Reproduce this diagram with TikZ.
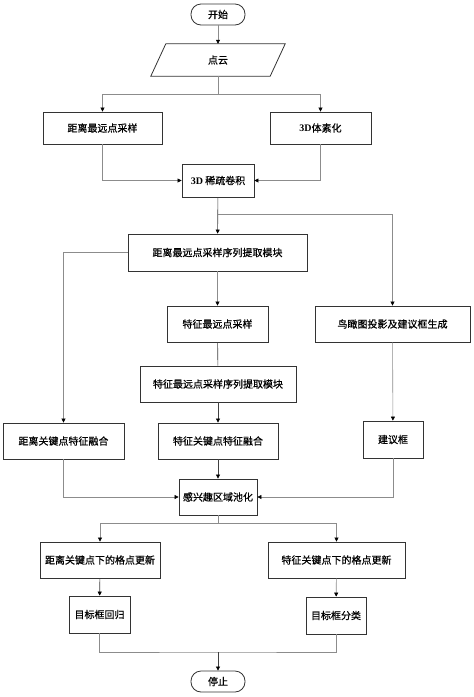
\documentclass[tikz,border=0pt]{standalone}
\usepackage{fontspec}
\setmainfont{Liberation Serif}
\newfontfamily\cjk[FakeBold=0.6]{Noto Sans CJK SC}
\usetikzlibrary{arrows.meta}

\begin{document}
\begin{tikzpicture}[x=1pt, y=-1pt,
  box/.style={draw=black!80, line width=0.8pt, inner sep=0pt, align=center, font=\cjk\fontsize{10}{12}\selectfont},
  term/.style={box, rounded corners=10pt, minimum width=54pt, minimum height=21pt},
  link/.style={draw=black!45, line width=0.6pt},
  darklink/.style={draw=black!75, line width=0.6pt},
  tip/.style={-{Triangle[length=4pt, width=4pt, color=black]}}]

\useasboundingbox (0, 0) rectangle (474, 697);

\draw (218, 14.5) node (start) [term] {开始};

\draw (218, 60) node (cloud) [font=\cjk\fontsize{10}{12}\selectfont, minimum width=119pt, minimum height=32pt, inner sep=0pt] {点云};
\draw [black!80, line width=0.8pt] ([xshift=7.5pt]cloud.north west) -- ([xshift=7.5pt]cloud.north east) -- ([xshift=-7.5pt]cloud.south east) -- ([xshift=-7.5pt]cloud.south west) -- cycle;

\draw (102.5, 128) node (fps) [box, minimum width=119pt, minimum height=32pt] {距离最远点采样};

\draw (320.5, 128) node (vox) [box, minimum width=101pt, minimum height=32pt] {{\rmfamily\bfseries 3D}体素化};

\draw (218, 180.5) node (spconv) [box, minimum width=72pt, minimum height=33pt] {{\rmfamily\bfseries 3D} 稀疏卷积};

\draw (217.5, 252.5) node (dseq) [box, minimum width=179pt, minimum height=37pt] {距离最远点采样序列提取模块};

\draw (217.5, 324) node (ffps) [box, minimum width=101pt, minimum height=36pt] {特征最远点采样};

\draw (392.5, 324) node (bev) [box, minimum width=155pt, minimum height=36pt] {鸟瞰图投影及建议框生成};

\draw (218, 384) node (fseq) [box, minimum width=156pt, minimum height=36pt] {特征最远点采样序列提取模块};

\draw (63.5, 441) node (dfuse) [box, minimum width=121pt, minimum height=36pt] {距离关键点特征融合};

\draw (218, 441) node (ffuse) [box, minimum width=120pt, minimum height=36pt] {特征关键点特征融合};

\draw (393, 439.5) node (prop) [box, minimum width=60pt, minimum height=37pt] {建议框};

\draw (218, 497) node (roi) [box, minimum width=78pt, minimum height=36pt] {感兴趣区域池化};

\draw (100, 560) node (dgrid) [box, minimum width=120pt, minimum height=36pt] {距离关键点下的格点更新};

\draw (336.5, 560) node (fgrid) [box, minimum width=137pt, minimum height=36pt] {特征关键点下的格点更新};

\draw (99.5, 614.5) node (reg) [box, minimum width=61pt, minimum height=37pt] {目标框回归};

\draw (336, 615.5) node (cls) [box, minimum width=60pt, minimum height=37pt] {目标框分类};

\draw (218, 681.5) node (stop) [term] {停止};

% junctions
\coordinate (j1) at (218, 94);
\coordinate (j2) at (218, 214);
\coordinate (j3) at (218, 523);
\coordinate (j4) at (218, 652);

\draw [link, tip] (start) -- (cloud);
\draw [link] (cloud.south) -- (j1);
\draw [link, tip] (j1) -| (fps.north);
\draw [link, tip] (j1) -| (vox.north);
\draw [link, tip] (fps.south) |- (spconv.west);
\draw [link, tip] (vox.south) |- (spconv.east);

\draw [darklink, tip] (spconv) -- (dseq);
\draw [link, tip] (j2) -| (bev.north);
\draw [link, tip] (dseq.west) -| (dfuse.north);
\draw [link, tip] (dseq) -- (ffps);
\draw [darklink] (ffps) -- (fseq);
\draw [darklink, tip] (fseq) -- (ffuse);
\draw [link, tip] (bev) -- (prop);

\draw [darklink, tip] (ffuse) -- (roi);
\draw [link, tip] (dfuse.south) |- (roi.west);
\draw [link, tip] (prop.south) |- (roi.east);

\draw [link] (roi.south) -- (j3);
\draw [link, tip] (j3) -| (dgrid.north);
\draw [link, tip] (j3) -| (fgrid.north);
\draw [darklink, tip] (dgrid) -- (reg);
\draw [link, tip] (fgrid) -- (cls);

\draw [link] (reg.south) |- (j4) -| (cls.south);
\draw [darklink, tip] (j4) -- (stop);

\end{tikzpicture}
\end{document}
